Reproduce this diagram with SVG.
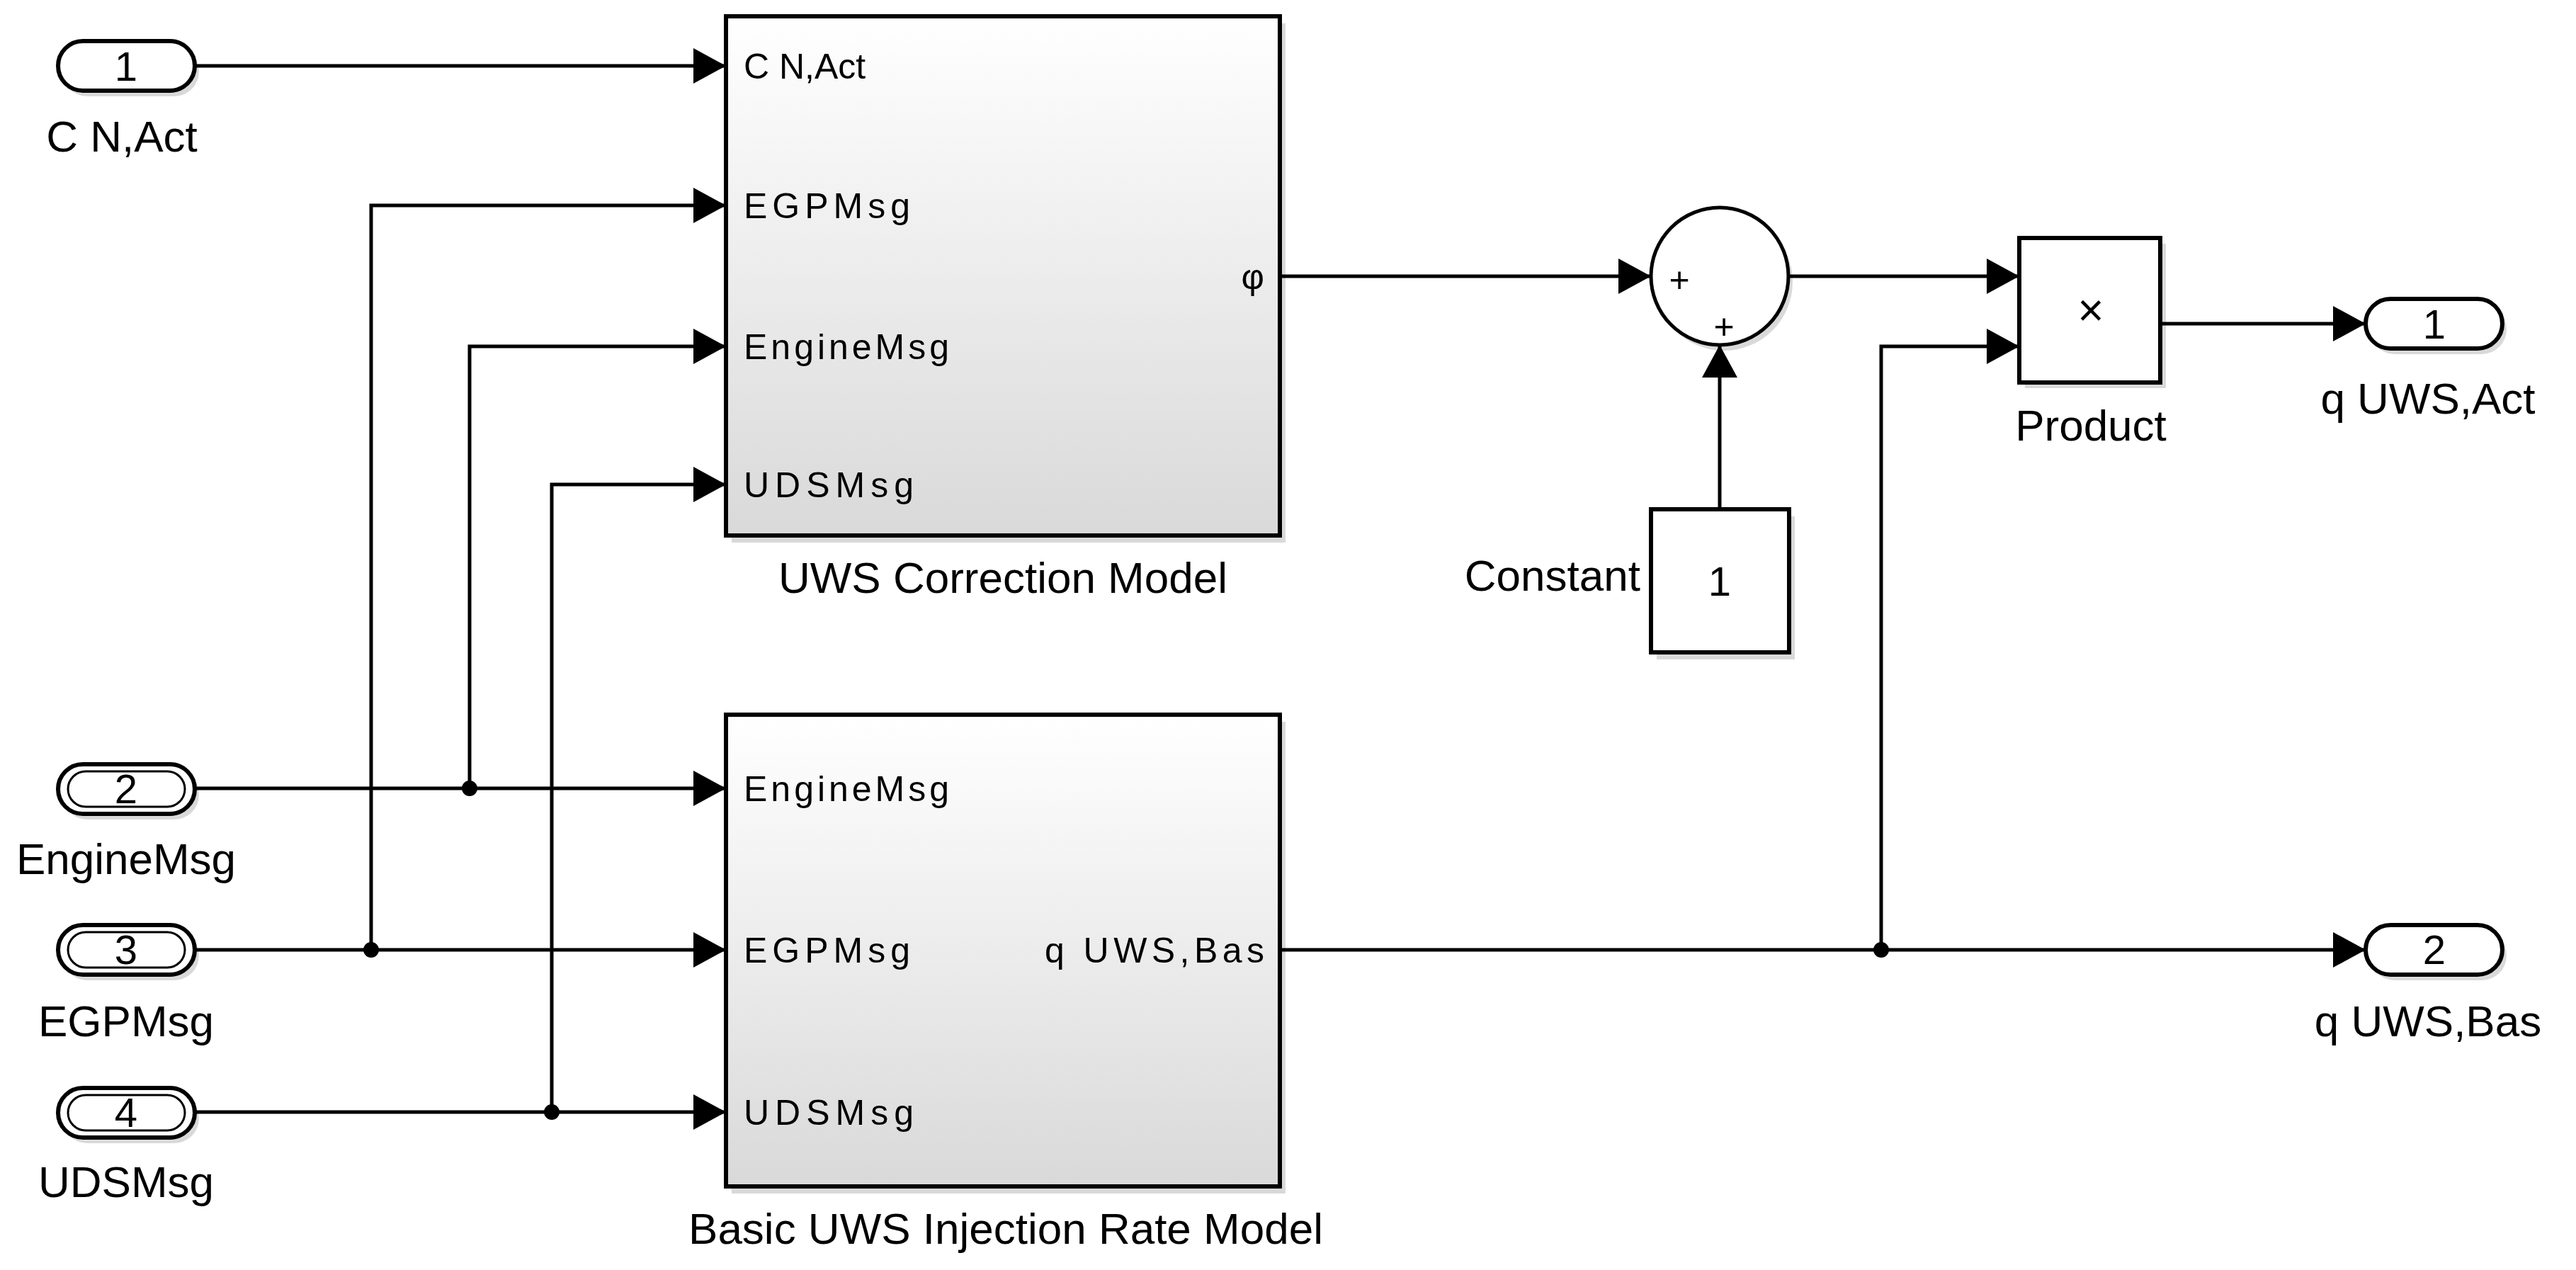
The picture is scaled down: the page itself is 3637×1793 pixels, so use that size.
<svg xmlns="http://www.w3.org/2000/svg" width="3637" height="1793" viewBox="0 0 3637 1793">
<style>
.ln{fill:none;stroke:#000;stroke-width:5}
.t{font-family:"Liberation Sans",Arial,sans-serif;fill:#000}
.lab{font-size:62px}
.port{font-size:50px}
.num{font-size:58px;text-anchor:middle}
.blk{fill:url(#g);stroke:#000;stroke-width:6}
.wb{fill:#fff;stroke:#000;stroke-width:6}
.sh{fill:#000;opacity:0.15}
</style>
<defs>
<linearGradient id="g" x1="0" y1="0" x2="0" y2="1"><stop offset="0" stop-color="#ffffff"/><stop offset="1" stop-color="#d9d9d9"/></linearGradient>
<marker id="a" markerUnits="userSpaceOnUse" markerWidth="46" markerHeight="50" refX="46" refY="25" orient="auto"><path d="M0,0L46,25L0,50z" fill="#000"/></marker>
</defs>
<g id="in1"><rect class="sh" x="88" y="66" width="193" height="70" rx="35"/><rect class="wb" x="82" y="58" width="193" height="70" rx="35"/><text class="t num" x="178" y="114">1</text><text class="t lab" x="172" y="214" text-anchor="middle">C N,Act</text></g>
<g id="in2"><rect class="sh" x="88" y="1087" width="193" height="70" rx="35"/><rect class="wb" x="82" y="1079" width="193" height="70" rx="35"/><rect x="96" y="1089" width="165" height="50" rx="25" fill="none" stroke="#000" stroke-width="3"/><text class="t num" x="178" y="1134">2</text><text class="t lab" x="178" y="1234" text-anchor="middle">EngineMsg</text></g>
<g id="in3"><rect class="sh" x="88" y="1314" width="193" height="70" rx="35"/><rect class="wb" x="82" y="1306" width="193" height="70" rx="35"/><rect x="96" y="1316" width="165" height="50" rx="25" fill="none" stroke="#000" stroke-width="3"/><text class="t num" x="178" y="1361">3</text><text class="t lab" x="178" y="1463" text-anchor="middle">EGPMsg</text></g>
<g id="in4"><rect class="sh" x="88" y="1544" width="193" height="70" rx="35"/><rect class="wb" x="82" y="1536" width="193" height="70" rx="35"/><rect x="96" y="1546" width="165" height="50" rx="25" fill="none" stroke="#000" stroke-width="3"/><text class="t num" x="178" y="1591">4</text><text class="t lab" x="178" y="1690" text-anchor="middle">UDSMsg</text></g>
<g id="corr"><rect class="sh" x="1033" y="33" width="782" height="733"/><rect class="blk" x="1025" y="23" width="782" height="733"/>
<text class="t port" x="1050" y="111">C  N,Act</text>
<text class="t port" x="1050" y="308" textLength="235" lengthAdjust="spacing">EGPMsg</text>
<text class="t port" x="1050" y="507" textLength="290" lengthAdjust="spacing">EngineMsg</text>
<text class="t port" x="1050" y="702" textLength="240" lengthAdjust="spacing">UDSMsg</text>
<text class="t port" x="1785" y="408" text-anchor="end">φ</text>
<text class="t lab" x="1416" y="837" text-anchor="middle">UWS Correction Model</text></g>
<g id="basic"><rect class="sh" x="1033" y="1019" width="782" height="666"/><rect class="blk" x="1025" y="1009" width="782" height="666"/>
<text class="t port" x="1050" y="1131" textLength="290" lengthAdjust="spacing">EngineMsg</text>
<text class="t port" x="1050" y="1359" textLength="235" lengthAdjust="spacing">EGPMsg</text>
<text class="t port" x="1050" y="1588" textLength="240" lengthAdjust="spacing">UDSMsg</text>
<text class="t port" x="1785" y="1359" text-anchor="end" textLength="310" lengthAdjust="spacing">q UWS,Bas</text>
<text class="t lab" x="1420" y="1756" text-anchor="middle">Basic UWS Injection Rate Model</text></g>
<g id="sum"><circle class="sh" cx="2434" cy="398" r="97"/><circle cx="2428" cy="390" r="97" fill="#fff" stroke="#000" stroke-width="5"/><text class="t" x="2371" y="412" font-size="50" text-anchor="middle">+</text><text class="t" x="2434" y="478" font-size="50" text-anchor="middle">+</text></g>
<g id="const"><rect class="sh" x="2339" y="729" width="195" height="202"/><rect class="wb" x="2331" y="719" width="195" height="202"/><text class="t num" x="2428" y="841">1</text><text class="t lab" x="2316" y="834" text-anchor="end">Constant</text></g>
<g id="prod"><rect class="sh" x="2859" y="344" width="199" height="204"/><rect class="wb" x="2851" y="336" width="199" height="204"/><text class="t" x="2952" y="460" font-size="64" text-anchor="middle">×</text><text class="t lab" x="2952" y="622" text-anchor="middle">Product</text></g>
<g id="out1"><rect class="sh" x="3346" y="430" width="193" height="70" rx="35"/><rect class="wb" x="3340" y="422" width="193" height="70" rx="35"/><text class="t num" x="3437" y="478">1</text><text class="t lab" x="3428" y="584" text-anchor="middle">q UWS,Act</text></g>
<g id="out2"><rect class="sh" x="3346" y="1314" width="193" height="70" rx="35"/><rect class="wb" x="3340" y="1306" width="193" height="70" rx="35"/><text class="t num" x="3437" y="1361">2</text><text class="t lab" x="3428" y="1463" text-anchor="middle">q UWS,Bas</text></g>
<g id="connectors">
<path class="ln" marker-end="url(#a)" d="M275,93H1025"/>
<path class="ln" marker-end="url(#a)" d="M275,1113H1025"/>
<path class="ln" marker-end="url(#a)" d="M275,1341H1025"/>
<path class="ln" marker-end="url(#a)" d="M275,1570H1025"/>
<path class="ln" marker-end="url(#a)" d="M524,1341V290H1025"/>
<path class="ln" marker-end="url(#a)" d="M663,1113V489H1025"/>
<path class="ln" marker-end="url(#a)" d="M779,1570V684H1025"/>
<path class="ln" marker-end="url(#a)" d="M1807,390H2331"/>
<path class="ln" marker-end="url(#a)" d="M2428,719V487"/>
<path class="ln" marker-end="url(#a)" d="M2525,390H2851"/>
<path class="ln" marker-end="url(#a)" d="M3050,457H3340"/>
<path class="ln" marker-end="url(#a)" d="M1807,1341H3340"/>
<path class="ln" marker-end="url(#a)" d="M2656,1341V489H2851"/>
<circle cx="524" cy="1341" r="11"/><circle cx="663" cy="1113" r="11"/><circle cx="779" cy="1570" r="11"/><circle cx="2656" cy="1341" r="11"/>
</g>
</svg>
